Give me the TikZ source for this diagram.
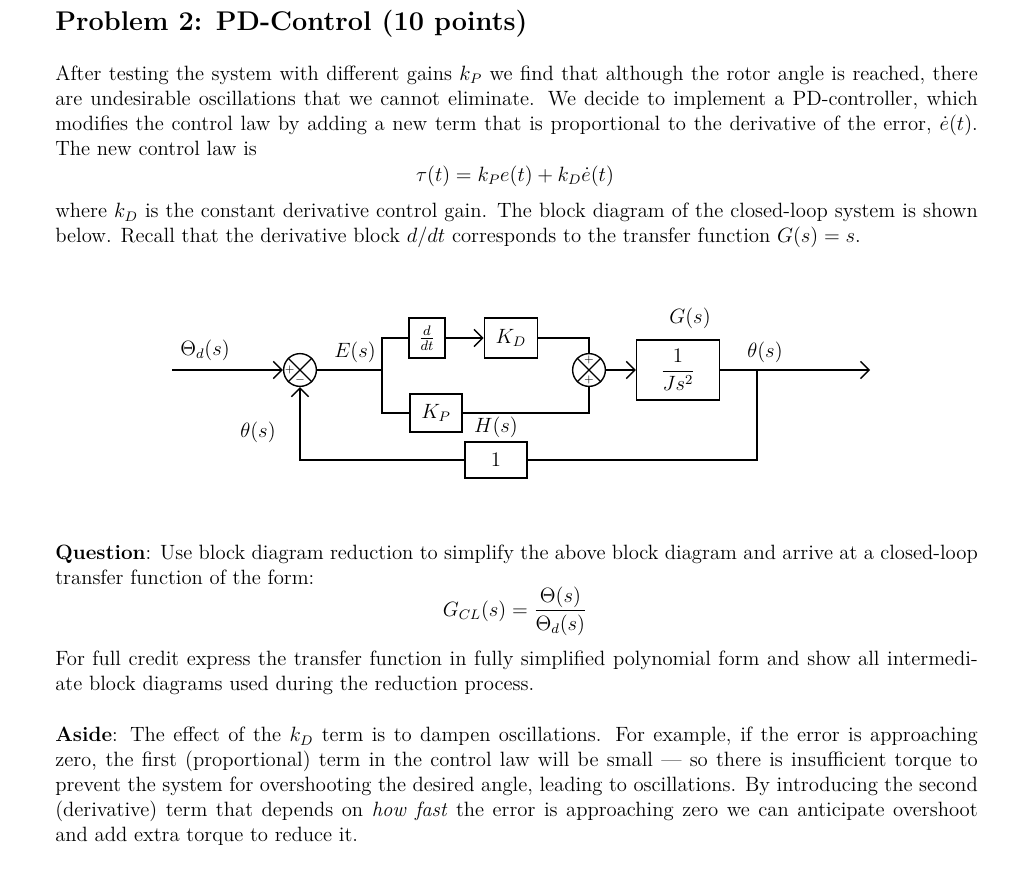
\documentclass[tikz,border=0pt,12pt]{standalone}
\usepackage{amssymb, amsmath}
\usetikzlibrary{arrows.meta}

\tikzset{
  para/.style={anchor=north west, inner sep=0pt, text width=535pt, align=justify},
  block/.style={draw, thick, inner sep=0pt},
  sum/.style={draw, thick, circle, minimum size=19pt, inner sep=0pt},
  sign/.style={inner sep=0pt, font=\tiny},
  wire/.style={thick},
  flow/.style={thick, -{Straight Barb[length=5pt]}}
}

\begin{document}
\begin{tikzpicture}[x=0.58pt,y=-0.58pt]
\useasboundingbox (0,0) rectangle (1024,882);
% page text
\node[anchor=base west, inner sep=0pt, font=\fontsize{15.7}{19}\selectfont\bfseries] (title) at (55,30) {Problem 2: PD-Control (10 points)};
\node[para] (intro) at (55,65) {After testing the system with different gains $k_P$ we find that although the rotor angle is reached, there\linebreak are undesirable oscillations that we cannot eliminate. We decide to implement a PD-controller, which\linebreak modifies the control law by adding a new term that is proportional to the derivative of the error, $\dot{e}(t)$.\linebreak The new control law is};
\node[inner sep=0pt] (law) at (515,176) {$\tau(t) = k_P e(t) + k_D\dot{e}(t)$};
\node[para] (where) at (55,203) {where $k_D$ is the constant derivative control gain. The block diagram of the closed-loop system is shown\linebreak below. Recall that the derivative block $d/dt$ corresponds to the transfer function $G(s) = s$.};

% block diagram
\node[sum] (s1) at (300,370) {};
\node[sum] (s2) at (589,370) {};
\foreach \s in {s1,s2} {
  \draw[thick] (\s.north east) -- (\s.south west);
  \draw[thick] (\s.north west) -- (\s.south east);
}
\node[sign] at ([xshift=4pt]s1.west) {$+$};
\node[sign] at ([yshift=4pt]s1.south) {$-$};
\node[sign] at ([yshift=-4pt]s2.north) {$+$};
\node[sign] at ([yshift=4pt]s2.south) {$+$};
\node[block, minimum width=21pt, minimum height=23pt] (ddt) at (427,338) {$\frac{d}{dt}$};
\node[block, minimum width=31pt, minimum height=23pt] (kd) at (511,338) {$K_D$};
\node[block, minimum width=30pt, minimum height=22pt] (kp) at (436,413) {$K_P$};
\node[block, minimum width=48pt, minimum height=35pt] (g) at (678,370) {$\dfrac{1}{Js^2}$};
\node[block, minimum width=36pt, minimum height=21pt] (h) at (496,460) {$1$};

\coordinate (in) at (172,370);
\coordinate (br) at (382,370);
\coordinate (tk) at (757,370);
\coordinate (out) at (870,370);

\draw[flow] (in) -- (s1.west);
\draw[wire] (s1.east) -- (br);
\draw[wire] (br) |- (ddt.west);
\draw[wire] (br) |- (kp.west);
\draw[flow] (ddt.east) -- (kd.west);
\draw[wire] (kd.east) -| (s2.north);
\draw[wire] (kp.east) -| (s2.south);
\draw[flow] (s2.east) -- (g.west);
\draw[flow] (g.east) -- (out);
\draw[wire] (tk) |- (h.east);
\draw[flow] (h.west) -| (s1.south);

\node (thd) at (205,350) {$\Theta_d(s)$};
\node (err) at (355,352) {$E(s)$};
\node (gl) at (690,318) {$G(s)$};
\node (tho) at (765,352) {$\theta(s)$};
\node (hl) at (496,427) {$H(s)$};
\node (thf) at (258,432) {$\theta(s)$};

% question text
\node[para] (quest) at (55,545) {\textbf{Question}: Use block diagram reduction to simplify the above block diagram and arrive at a closed-loop\linebreak transfer function of the form:};
\node[inner sep=0pt] (gcl) at (515,611) {$G_{CL}(s) = \dfrac{\Theta(s)}{\Theta_d(s)}$};
\node[para] (credit) at (55,651) {For full credit express the transfer function in fully simplified polynomial form and show all intermedi-\linebreak ate block diagrams used during the reduction process.};
\node[para] (aside) at (55,727) {\textbf{Aside}: The effect of the $k_D$ term is to dampen oscillations. For example, if the error is approaching\linebreak zero, the first (proportional) term in the control law will be small --- so there is insufficient torque to\linebreak prevent the system for overshooting the desired angle, leading to oscillations. By introducing the second\linebreak (derivative) term that depends on \emph{how fast} the error is approaching zero we can anticipate overshoot\linebreak and add extra torque to reduce it.};
\end{tikzpicture}
\end{document}
